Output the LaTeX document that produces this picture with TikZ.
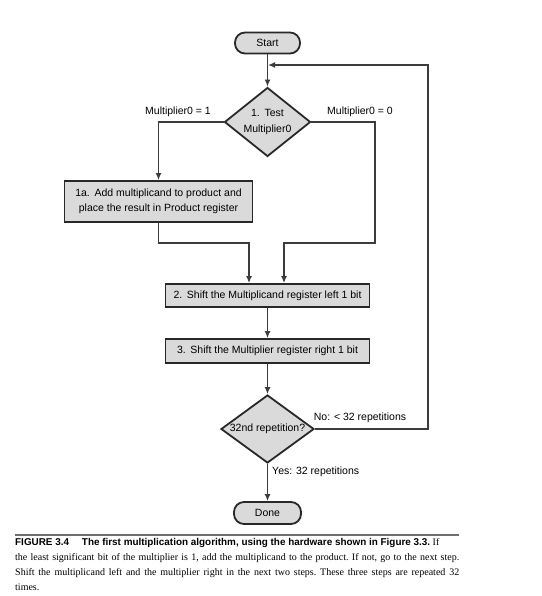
\documentclass[tikz,border=0pt]{standalone}
\usepackage{fontspec}
\setmainfont{Liberation Serif}
\newfontfamily\diafont{Liberation Sans}
\usetikzlibrary{shapes.geometric,arrows.meta}
\definecolor{boxfill}{RGB}{218,218,218}
\definecolor{boxdraw}{RGB}{40,40,40}
\definecolor{linecol}{RGB}{60,60,60}
\definecolor{rulecol}{RGB}{110,110,110}
\tikzset{
  box/.style={draw=boxdraw, line width=1.8pt, fill=boxfill, inner sep=0pt,
    font=\diafont\fontsize{10.5}{15.5}\selectfont, align=center},
  term/.style={box, rounded corners=10pt},
  dia/.style={diamond, draw=boxdraw, line width=1.8pt, fill=boxfill, inner sep=0pt},
  conn/.style={draw=linecol, line width=1.4pt, -{Latex[length=7pt,width=6pt]}},
  lbl/.style={font=\diafont\fontsize{10.5}{16.5}\selectfont, inner sep=0pt, align=center},
}
\begin{document}
\begin{tikzpicture}[x=1pt,y=-1pt]
\useasboundingbox (0,0) rectangle (541,596);
% nodes
\node[term, minimum width=65pt, minimum height=21pt] (start) at (267.5,43) {Start};
\node[dia, minimum width=86pt, minimum height=69pt] (d1) at (267.5,122) {};
\node[lbl] (d1t) at (267.5,122) {1.\hspace{0.45em}Test\\Multiplier0};
\node[box, minimum width=188pt, minimum height=41pt] (s1a) at (158.5,201.5)
  {1a.\hspace{0.45em}Add multiplicand to product and\\place the result in Product register};
\node[box, minimum width=204pt, minimum height=23pt] (s2) at (267.5,295.5)
  {2.\hspace{0.45em}Shift the Multiplicand register left 1 bit};
\node[box, minimum width=204pt, minimum height=24pt] (s3) at (267.5,351)
  {3.\hspace{0.45em}Shift the Multiplier register right 1 bit};
\node[dia, minimum width=93pt, minimum height=68pt] (d2) at (267.5,429) {};
\node[lbl] (d2t) at (267.5,429) {32nd repetition?};
\node[term, minimum width=67pt, minimum height=22pt] (done) at (267.5,513) {Done};
% labels
\node[lbl] (m1) at (178,112) {Multiplier0 = 1};
\node[lbl] (m0) at (360,112) {Multiplier0 = 0};
\node[lbl] (no) at (360,418) {No: < 32 repetitions};
\node[lbl, anchor=west] (yes) at (272,472) {Yes: 32 repetitions};
% helper coordinates
\coordinate (lc) at (428,65);
\coordinate (l1) at (249,243);
\coordinate (r1) at (375,243);
\coordinate (r2) at (284,243);
% connectors
\draw[conn] (start.south) -- (d1.north);
\draw[conn] (d1.west) -| (s1a.north);
\draw[conn] (s1a.south) |- (l1) -- (l1 |- s2.north);
\draw[conn] (d1.east) -| (r1) -- (r2) -- (r2 |- s2.north);
\draw[conn] (s2.south) -- (s3.north);
\draw[conn] (s3.south) -- (d2.north);
\draw[conn] (d2.south) -- (done.north);
\draw[conn, shorten >=0.5pt] (d2.east) -| (lc) -- (lc -| start.south);
% caption
\draw[rulecol, line width=2pt] (15,535) -- (459,535);
\node[anchor=north west, inner sep=0pt, text width=444pt, align=justify,
  font=\frenchspacing\fontsize{10}{14.8}\selectfont] (cap) at (15,538.5)
  {{\diafont\bfseries\fontsize{9.9}{14.8}\selectfont FIGURE 3.4\hspace{1.3em}The first multiplication algorithm, using the hardware shown in Figure 3.3.} If\newline
  the least significant bit of the multiplier is 1, add the multiplicand to the product. If not, go to the next step.\linebreak
  Shift the multiplicand left and the multiplier right in the next two steps. These three steps are repeated 32\linebreak
  times.};
\end{tikzpicture}
\end{document}
